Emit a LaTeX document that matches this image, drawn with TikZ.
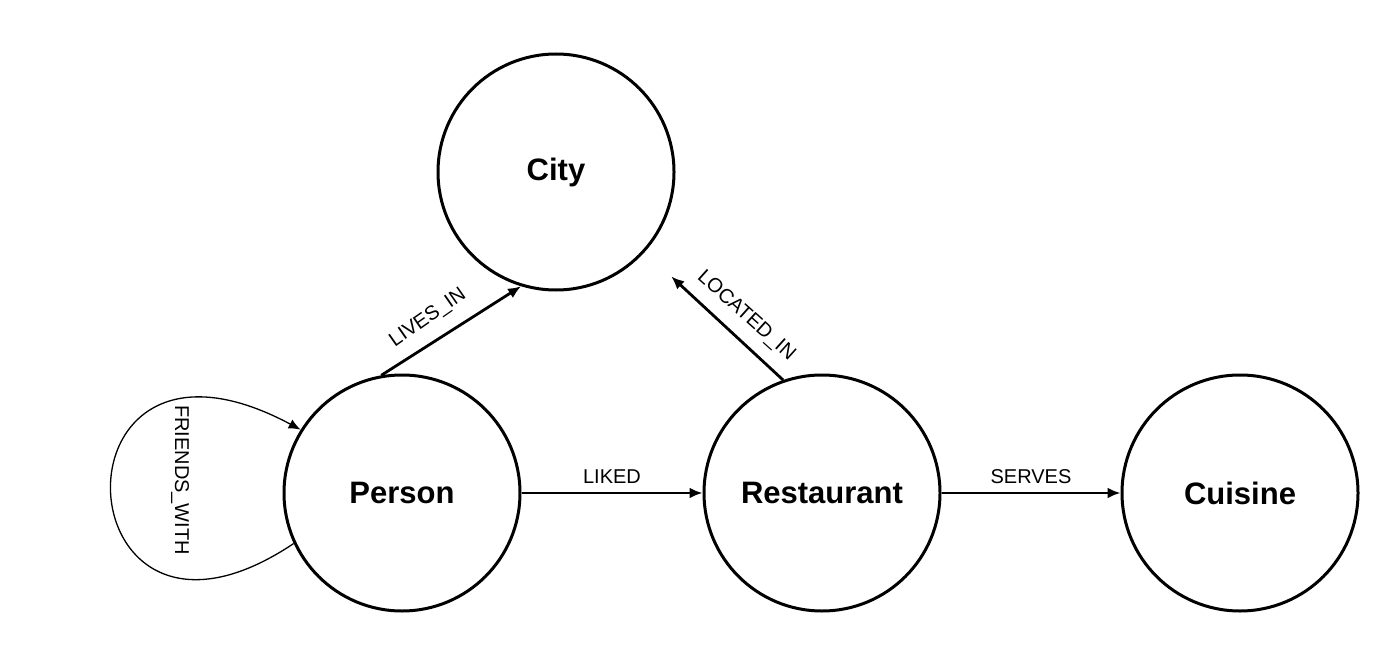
\documentclass[tikz,border=0pt]{standalone}
\usepackage{fontspec}
\setmainfont{Liberation Sans}
\usetikzlibrary{arrows.meta}
\begin{document}
\begin{tikzpicture}[x=1pt,y=-1pt,
  ent/.style={circle,draw,line width=3pt,minimum size=236pt,inner sep=0pt,font=\fontsize{31}{36}\selectfont\bfseries},
  rel/.style={line width=2.8pt,-{Latex[length=13pt,width=11pt]}},
  lab/.style={font=\fontsize{20}{24}\selectfont,inner sep=2pt}]
\useasboundingbox (0,0) rectangle (1390,666);
\node[ent] (city) at (556,172) {City};
\node[ent] (person) at (402,493) {Person};
\node[ent] (rest) at (822,493) {Restaurant};
\node[ent] (cuis) at (1240,493) {Cuisine};
\draw[rel] (person.100) -- (city.253);
\node[lab,rotate=35] (liv) at (428,318) {LIVES\_IN};
\draw[rel,shorten >=36pt] (rest.109) -- (city.-42);
\node[lab,rotate=-42] (loc) at (746,316) {LOCATED\_IN};
\draw[rel] (person.east) -- node[lab,above=6pt] {LIKED} (rest.west);
\draw[rel] (rest.east) -- node[lab,above=6pt] {SERVES} (cuis.west);
\draw[line width=1.3pt,-{Latex[length=12pt,width=10pt]}] (person.205) .. controls (60,700) and (40,290) .. (person.148);
\node[lab,rotate=-90] (fw) at (180,480) {FRIENDS\_WITH};
\end{tikzpicture}
\end{document}
